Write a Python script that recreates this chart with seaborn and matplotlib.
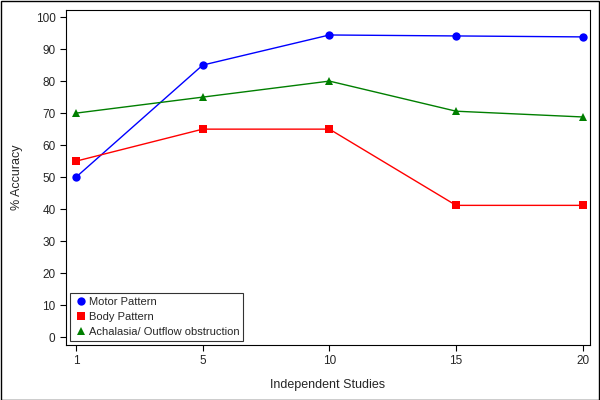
import matplotlib
matplotlib.use("Agg")
import pandas as pd
import seaborn as sns
from matplotlib import pyplot as plt

studies = ["1", "5", "10", "15", "20"]
motor = [50, 85, 94.4, 94.1, 93.8]
body = [55, 65, 65, 41.2, 41.2]
achalasia = [70, 75, 80, 70.6, 68.8]
names = ["Motor Pattern", "Body Pattern", "Achalasia/ Outflow obstruction"]

# the x axis is spaced evenly, so use the position of each study
pos = list(range(len(studies)))
df = pd.DataFrame({
    "pos": pos * 3,
    "acc": motor + body + achalasia,
    "series": [names[0]] * 5 + [names[1]] * 5 + [names[2]] * 5,
})

sns.set_theme(style="ticks")
plt.rcParams["font.family"] = ["Liberation Sans", "DejaVu Sans"]

fig = plt.figure(figsize=(6, 4), dpi=100)
ax = fig.add_axes([0.11, 0.1375, 0.873, 0.8375])

colors = {names[0]: "#0000ff", names[1]: "#ff0000", names[2]: "#007f00"}
markers = {names[0]: "o", names[1]: "s", names[2]: "^"}
sns.lineplot(data=df, x="pos", y="acc", hue="series", style="series",
             palette=colors, markers=markers, dashes=False, ax=ax,
             linewidth=1, markersize=6, markeredgewidth=0, legend=False)

ax.set_xlim(-0.079, 4.055)
ax.set_ylim(-2.4, 102.2)
ax.set_xticks(pos)
ax.set_xticklabels(studies)
ax.set_yticks(range(0, 101, 10))
ax.tick_params(labelsize=8.5, length=4, width=0.8, color="black")
ax.set_xlabel("Independent Studies", fontsize=9, labelpad=8)
ax.set_ylabel("% Accuracy", fontsize=9, labelpad=9)
for s in ax.spines.values():
    s.set_visible(True)
    s.set_color("black")
    s.set_linewidth(0.8)

handles = [plt.Line2D([], [], color=colors[n], marker=markers[n], linestyle="none",
                      markersize=6, markeredgewidth=0) for n in names]
leg = ax.legend(handles, names, loc="lower left", fontsize=8, frameon=True,
                fancybox=False, handletextpad=0.1, handlelength=1.2,
                borderaxespad=0.4, labelspacing=0.45, borderpad=0.35)
leg.get_frame().set_edgecolor("black")
leg.get_frame().set_linewidth(0.8)

fig.patches.append(plt.Rectangle((0.001, 0.001), 0.997, 0.997, transform=fig.transFigure,
                                 fill=False, edgecolor="black", linewidth=1))

fig.savefig("out.png", dpi=100)
